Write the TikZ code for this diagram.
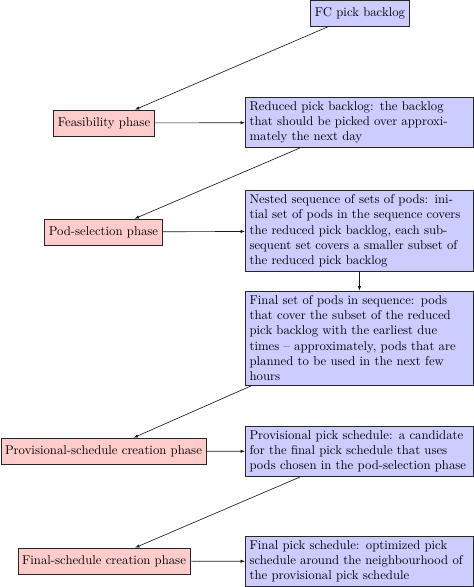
\documentclass[tikz,border=0pt]{standalone}
\usetikzlibrary{arrows.meta}
\begin{document}
\begin{tikzpicture}[x=0.785pt,y=-0.785pt,
  phase/.style={draw=black!85,fill=red!20,minimum height=20.4pt,inner xsep=3.3pt,line width=0.5pt},
  item/.style={draw=black!85,fill=blue!20,text width=172.5pt,align=left,anchor=west,line width=0.5pt},
  conn/.style={draw=black!90,line width=0.5pt,-{Latex[length=3.5pt,width=2.6pt]}}]
\useasboundingbox (0,0) rectangle (474,587);
\node[item,text width=,align=center,anchor=center,minimum height=20.4pt] (fc) at (360,13) {FC pick backlog};
\node[phase] (feas) at (104,123) {Feasibility phase};
\node[item] (red) at (245,122.5) {Reduced pick backlog: the backlog\\that should be picked over approxi-\\mately the next day};
\node[phase] (pod) at (103.5,232) {Pod-selection phase};
\node[item] (nest) at (245,231) {Nested sequence of sets of pods: ini-\\tial set of pods in the sequence covers\\the reduced pick backlog, each sub-\\sequent set covers a smaller subset of\\the reduced pick backlog};
\node[item] (fset) at (245,338) {Final set of pods in sequence: pods\\that cover the subset of the reduced\\pick backlog with the earliest due\\times -- approximately, pods that are\\planned to be used in the next few\\hours};
\node[phase] (prov) at (103.5,451) {Provisional-schedule creation phase};
\node[item] (psch) at (245,451.5) {Provisional pick schedule: a candidate\\for the final pick schedule that uses\\pods chosen in the pod-selection phase};
\node[phase] (fin) at (104,561) {Final-schedule creation phase};
\node[item] (fsch) at (245,561.5) {Final pick schedule: optimized pick\\schedule around the neighbourhood of\\the provisional pick schedule};
\draw[conn] (fc) -- (feas);
\draw[conn] (feas) -- (red);
\draw[conn] (red) -- (pod);
\draw[conn] (pod) -- (nest);
\draw[conn] (nest) -- (fset);
\draw[conn] (fset) -- (prov);
\draw[conn] (prov) -- (psch);
\draw[conn] (psch) -- (fin);
\draw[conn] (fin) -- (fsch);
\end{tikzpicture}
\end{document}
